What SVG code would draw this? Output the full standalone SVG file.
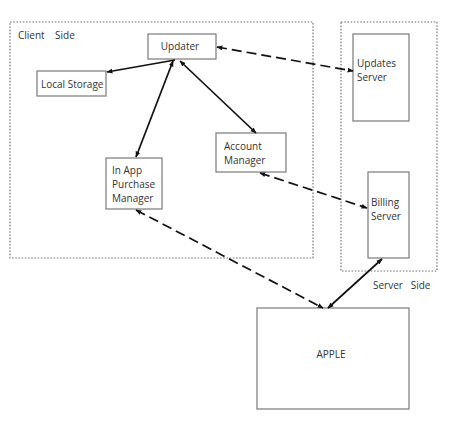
<svg xmlns="http://www.w3.org/2000/svg" width="474" height="431" viewBox="0 0 474 431">
<style>
.node{fill:#fff;stroke:#7a7a7a;stroke-width:1.2}
.zone{fill:none;stroke:#777;stroke-width:1.2;stroke-dasharray:1.6 1.6}
.t{font-family:"Open Sans","Liberation Sans",sans-serif;font-size:10px;fill:#333}
.c{stroke:#111;stroke-width:1.7;fill:none;marker-start:url(#a);marker-end:url(#a)}
.d{stroke-dasharray:10 5}
</style>
<defs>
<marker id="a" viewBox="0 0 10 10" refX="9" refY="5" markerWidth="6" markerHeight="6" orient="auto-start-reverse" markerUnits="userSpaceOnUse">
<path d="M0,1 L10,5 L0,9 z" fill="#111"/>
</marker>
</defs>
<rect width="474" height="431" fill="#fff"/>
<g id="client-side">
<rect class="zone" x="10" y="22" width="303" height="236"/>
<text class="t" x="18" y="39" xml:space="preserve">Client    Side</text>
</g>
<g id="server-side">
<rect class="zone" x="341" y="22" width="96" height="249"/>
<text class="t" x="373" y="289" xml:space="preserve">Server   Side</text>
</g>
<g id="updater">
<rect class="node" x="148" y="34" width="68" height="25"/>
<text class="t" x="180" y="50" text-anchor="middle">Updater</text>
</g>
<g id="local-storage">
<rect class="node" x="37" y="71" width="69" height="25"/>
<text class="t" x="41" y="88">Local Storage</text>
</g>
<g id="updates-server">
<rect class="node" x="353" y="34" width="56" height="87"/>
<text class="t" x="357" y="67">Updates</text>
<text class="t" x="357" y="81">Server</text>
</g>
<g id="account-manager">
<rect class="node" x="216" y="133" width="70" height="39"/>
<text class="t" x="224" y="150">Account</text>
<text class="t" x="224" y="164">Manager</text>
</g>
<g id="iap-manager">
<rect class="node" x="106" y="158" width="56" height="51"/>
<text class="t" x="112" y="174">In App</text>
<text class="t" x="112" y="188">Purchase</text>
<text class="t" x="112" y="202">Manager</text>
</g>
<g id="billing-server">
<rect class="node" x="368" y="172" width="41" height="86"/>
<text class="t" x="371" y="206">Billing</text>
<text class="t" x="371" y="220">Server</text>
</g>
<g id="apple">
<rect class="node" x="257" y="308" width="152" height="101"/>
<text class="t" x="331" y="358" text-anchor="middle">APPLE</text>
</g>
<g id="connectors">
<path class="c d" d="M217,47 L353,71"/>
<path class="c" style="marker-start:none" d="M175,60 L107,72"/>
<path class="c" d="M173,61 L136,157"/>
<path class="c" d="M180,61 L256,133"/>
<path class="c d" d="M260,173 L367,208"/>
<path class="c d" d="M136,210 L323,308"/>
<path class="c" d="M382,259 L328,308"/>
</g>
</svg>
